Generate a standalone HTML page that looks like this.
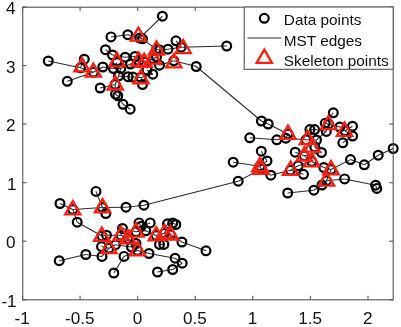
<!DOCTYPE html>
<html><head><meta charset="utf-8"><title>MST skeleton plot</title>
<style>html,body{margin:0;padding:0;background:#fff}svg{display:block}</style></head>
<body>
<svg width="401" height="327" viewBox="0 0 401 327">
<rect width="401" height="327" fill="#fff"/>
<g stroke="#2a2a2a" stroke-width="1.05" fill="none">
<line x1="67.3" y1="81.3" x2="93.3" y2="72.3"/>
<line x1="233.2" y1="162.2" x2="259.8" y2="166.3"/>
<line x1="238.2" y1="181.2" x2="261.2" y2="168.9"/>
<line x1="238.2" y1="181.2" x2="143.9" y2="205.2"/>
<line x1="77.2" y1="222.2" x2="102.0" y2="236.0"/>
<line x1="182.2" y1="263.2" x2="172.7" y2="269.5"/>
<line x1="139.8" y1="38.0" x2="142.5" y2="38.8"/>
<line x1="159.8" y1="50.0" x2="156.5" y2="49.6"/>
<line x1="115.5" y1="94.2" x2="117.8" y2="95.8"/>
<line x1="325.2" y1="123.3" x2="328.5" y2="124.2"/>
<line x1="172.8" y1="223.0" x2="175.8" y2="224.5"/>
<line x1="159.5" y1="244.4" x2="163.9" y2="244.4"/>
<line x1="156.5" y1="57.0" x2="153.5" y2="58.8"/>
<line x1="128.2" y1="76.8" x2="132.8" y2="77.0"/>
<line x1="309.9" y1="129.6" x2="314.6" y2="129.6"/>
<line x1="106.5" y1="235.2" x2="102.0" y2="236.0"/>
<line x1="259.8" y1="166.3" x2="261.2" y2="168.9"/>
<line x1="167.5" y1="223.8" x2="172.8" y2="223.0"/>
<line x1="138.8" y1="60.8" x2="144.2" y2="62.0"/>
<line x1="375.6" y1="185.2" x2="376.8" y2="188.4"/>
<line x1="164.5" y1="233.2" x2="170.5" y2="234.8"/>
<line x1="141.2" y1="226.2" x2="139.0" y2="222.9"/>
<line x1="120.8" y1="68.5" x2="113.5" y2="68.5"/>
<line x1="101.5" y1="246.6" x2="109.0" y2="248.2"/>
<line x1="131.5" y1="247.0" x2="136.0" y2="243.5"/>
<line x1="323.8" y1="167.5" x2="331.0" y2="169.5"/>
<line x1="141.0" y1="77.5" x2="132.8" y2="77.0"/>
<line x1="168.0" y1="49.2" x2="159.8" y2="50.0"/>
<line x1="285.8" y1="138.2" x2="288.0" y2="134.0"/>
<line x1="261.4" y1="121.0" x2="268.2" y2="124.0"/>
<line x1="339.8" y1="127.0" x2="345.0" y2="130.8"/>
<line x1="131.5" y1="247.0" x2="137.5" y2="250.5"/>
<line x1="135.0" y1="56.5" x2="138.8" y2="60.8"/>
<line x1="156.2" y1="235.5" x2="164.5" y2="233.2"/>
<line x1="121.0" y1="235.2" x2="127.8" y2="238.5"/>
<line x1="276.8" y1="139.8" x2="285.8" y2="138.2"/>
<line x1="322.0" y1="185.0" x2="326.5" y2="180.8"/>
<line x1="115.5" y1="244.7" x2="109.0" y2="248.2"/>
<line x1="128.2" y1="76.8" x2="118.5" y2="76.0"/>
<line x1="125.2" y1="57.2" x2="135.0" y2="56.5"/>
<line x1="141.2" y1="226.2" x2="145.8" y2="230.8"/>
<line x1="145.8" y1="230.8" x2="136.0" y2="231.8"/>
<line x1="152.8" y1="74.2" x2="147.0" y2="70.0"/>
<line x1="130.5" y1="64.0" x2="138.8" y2="60.8"/>
<line x1="316.5" y1="140.0" x2="306.0" y2="139.8"/>
<line x1="102.8" y1="67.0" x2="113.5" y2="68.5"/>
<line x1="141.2" y1="226.2" x2="150.2" y2="222.9"/>
<line x1="144.2" y1="62.0" x2="153.5" y2="58.8"/>
<line x1="295.2" y1="152.2" x2="304.3" y2="155.7"/>
<line x1="352.5" y1="126.2" x2="345.0" y2="130.8"/>
<line x1="290.3" y1="170.3" x2="298.2" y2="165.8"/>
<line x1="123.0" y1="104.3" x2="130.2" y2="109.2"/>
<line x1="175.1" y1="258.2" x2="182.2" y2="263.2"/>
<line x1="314.6" y1="129.6" x2="326.3" y2="131.4"/>
<line x1="105.8" y1="213.5" x2="102.5" y2="207.5"/>
<line x1="117.0" y1="62.5" x2="113.5" y2="68.5"/>
<line x1="339.8" y1="127.0" x2="328.5" y2="124.2"/>
<line x1="105.5" y1="49.7" x2="112.5" y2="55.0"/>
<line x1="267.0" y1="161.0" x2="259.8" y2="166.3"/>
<line x1="321.5" y1="152.5" x2="314.8" y2="147.0"/>
<line x1="352.6" y1="136.0" x2="345.0" y2="130.8"/>
<line x1="136.0" y1="243.5" x2="127.8" y2="238.5"/>
<line x1="149.0" y1="253.5" x2="137.5" y2="250.5"/>
<line x1="322.0" y1="185.0" x2="313.9" y2="190.2"/>
<line x1="120.8" y1="68.5" x2="130.5" y2="64.0"/>
<line x1="122.5" y1="228.5" x2="121.0" y2="235.2"/>
<line x1="152.8" y1="74.2" x2="141.0" y2="77.5"/>
<line x1="112.5" y1="55.0" x2="125.2" y2="57.2"/>
<line x1="304.3" y1="155.7" x2="311.8" y2="161.5"/>
<line x1="127.8" y1="34.7" x2="139.8" y2="38.0"/>
<line x1="176.0" y1="40.8" x2="181.2" y2="47.2"/>
<line x1="168.0" y1="49.2" x2="181.2" y2="47.2"/>
<line x1="141.0" y1="77.5" x2="142.5" y2="84.5"/>
<line x1="316.5" y1="140.0" x2="314.8" y2="147.0"/>
<line x1="145.8" y1="230.8" x2="156.2" y2="235.5"/>
<line x1="93.3" y1="72.3" x2="102.8" y2="67.0"/>
<line x1="159.5" y1="65.2" x2="153.5" y2="58.8"/>
<line x1="159.8" y1="50.0" x2="156.5" y2="57.0"/>
<line x1="326.3" y1="131.4" x2="328.5" y2="124.2"/>
<line x1="106.5" y1="235.2" x2="121.0" y2="235.2"/>
<line x1="120.8" y1="68.5" x2="118.5" y2="76.0"/>
<line x1="122.5" y1="228.5" x2="136.0" y2="231.8"/>
<line x1="290.3" y1="170.3" x2="303.5" y2="174.3"/>
<line x1="80.5" y1="67.8" x2="93.3" y2="72.3"/>
<line x1="270.8" y1="175.2" x2="261.2" y2="168.9"/>
<line x1="298.2" y1="165.8" x2="311.8" y2="161.5"/>
<line x1="157.5" y1="272.0" x2="172.7" y2="269.5"/>
<line x1="100.2" y1="88.0" x2="115.2" y2="84.5"/>
<line x1="352.6" y1="136.0" x2="342.8" y2="142.8"/>
<line x1="115.5" y1="244.7" x2="131.5" y2="247.0"/>
<line x1="85.8" y1="254.5" x2="102.0" y2="256.4"/>
<line x1="159.5" y1="65.2" x2="173.8" y2="60.8"/>
<line x1="323.8" y1="167.5" x2="311.8" y2="161.5"/>
<line x1="118.5" y1="76.0" x2="115.2" y2="84.5"/>
<line x1="350.5" y1="159.6" x2="364.3" y2="164.8"/>
<line x1="84.3" y1="59.2" x2="80.5" y2="67.8"/>
<line x1="111.0" y1="36.9" x2="127.8" y2="34.7"/>
<line x1="60.0" y1="203.5" x2="72.8" y2="209.5"/>
<line x1="102.0" y1="256.4" x2="109.0" y2="248.2"/>
<line x1="117.8" y1="95.8" x2="123.0" y2="104.3"/>
<line x1="124.0" y1="256.4" x2="137.5" y2="250.5"/>
<line x1="159.5" y1="244.4" x2="156.2" y2="235.5"/>
<line x1="181.9" y1="242.0" x2="170.5" y2="234.8"/>
<line x1="321.5" y1="152.5" x2="304.3" y2="155.7"/>
<line x1="126.0" y1="207.2" x2="143.9" y2="205.2"/>
<line x1="344.6" y1="178.9" x2="326.5" y2="180.8"/>
<line x1="167.5" y1="223.8" x2="164.5" y2="233.2"/>
<line x1="115.2" y1="84.5" x2="115.5" y2="94.2"/>
<line x1="316.5" y1="140.0" x2="326.3" y2="131.4"/>
<line x1="261.3" y1="151.2" x2="267.0" y2="161.0"/>
<line x1="378.2" y1="155.2" x2="393.2" y2="148.5"/>
<line x1="285.8" y1="138.2" x2="306.0" y2="139.8"/>
<line x1="270.8" y1="175.2" x2="290.3" y2="170.3"/>
<line x1="325.2" y1="123.3" x2="333.3" y2="112.8"/>
<line x1="331.0" y1="169.5" x2="326.5" y2="180.8"/>
<line x1="364.3" y1="164.8" x2="378.2" y2="155.2"/>
<line x1="126.0" y1="207.2" x2="102.5" y2="207.5"/>
<line x1="173.8" y1="60.8" x2="196.2" y2="66.5"/>
<line x1="77.2" y1="222.2" x2="72.8" y2="209.5"/>
<line x1="142.5" y1="38.8" x2="156.5" y2="49.6"/>
<line x1="313.9" y1="190.2" x2="287.7" y2="193.0"/>
<line x1="249.8" y1="137.8" x2="276.8" y2="139.8"/>
<line x1="350.5" y1="159.6" x2="331.0" y2="169.5"/>
<line x1="149.0" y1="253.5" x2="175.1" y2="258.2"/>
<line x1="268.2" y1="124.0" x2="288.0" y2="134.0"/>
<line x1="85.8" y1="254.5" x2="59.2" y2="260.7"/>
<line x1="181.9" y1="242.0" x2="206.0" y2="250.8"/>
<line x1="72.8" y1="209.5" x2="102.5" y2="207.5"/>
<line x1="96.0" y1="191.4" x2="102.5" y2="207.5"/>
<line x1="344.6" y1="178.9" x2="375.6" y2="185.2"/>
<line x1="124.0" y1="256.4" x2="113.8" y2="273.0"/>
<line x1="48.3" y1="61.0" x2="80.5" y2="67.8"/>
<line x1="181.2" y1="47.2" x2="226.7" y2="46.0"/>
<line x1="139.8" y1="38.0" x2="162.4" y2="16.2"/>
<line x1="196.2" y1="66.5" x2="261.4" y2="121.0"/>
</g>
<g stroke="#000" stroke-width="2.2" fill="none">
<circle cx="48.3" cy="61.0" r="4.4"/>
<circle cx="84.3" cy="59.2" r="4.4"/>
<circle cx="67.3" cy="81.3" r="4.4"/>
<circle cx="80.5" cy="67.8" r="4.4"/>
<circle cx="93.3" cy="72.3" r="4.4"/>
<circle cx="100.2" cy="88.0" r="4.4"/>
<circle cx="111.0" cy="36.9" r="4.4"/>
<circle cx="127.8" cy="34.7" r="4.4"/>
<circle cx="105.5" cy="49.7" r="4.4"/>
<circle cx="139.8" cy="38.0" r="4.4"/>
<circle cx="142.5" cy="38.8" r="4.4"/>
<circle cx="162.4" cy="16.2" r="4.4"/>
<circle cx="176.0" cy="40.8" r="4.4"/>
<circle cx="168.0" cy="49.2" r="4.4"/>
<circle cx="159.8" cy="50.0" r="4.4"/>
<circle cx="181.2" cy="47.2" r="4.4"/>
<circle cx="156.5" cy="57.0" r="4.4"/>
<circle cx="159.5" cy="65.2" r="4.4"/>
<circle cx="152.8" cy="74.2" r="4.4"/>
<circle cx="173.8" cy="60.8" r="4.4"/>
<circle cx="196.2" cy="66.5" r="4.4"/>
<circle cx="226.7" cy="46.0" r="4.4"/>
<circle cx="112.5" cy="55.0" r="4.4"/>
<circle cx="125.2" cy="57.2" r="4.4"/>
<circle cx="117.0" cy="62.5" r="4.4"/>
<circle cx="102.8" cy="67.0" r="4.4"/>
<circle cx="120.8" cy="68.5" r="4.4"/>
<circle cx="135.0" cy="56.5" r="4.4"/>
<circle cx="128.2" cy="76.8" r="4.4"/>
<circle cx="118.5" cy="76.0" r="4.4"/>
<circle cx="141.0" cy="77.5" r="4.4"/>
<circle cx="115.2" cy="84.5" r="4.4"/>
<circle cx="115.5" cy="94.2" r="4.4"/>
<circle cx="117.8" cy="95.8" r="4.4"/>
<circle cx="123.0" cy="104.3" r="4.4"/>
<circle cx="130.2" cy="109.2" r="4.4"/>
<circle cx="142.5" cy="84.5" r="4.4"/>
<circle cx="113.5" cy="68.5" r="4.4"/>
<circle cx="130.5" cy="64.0" r="4.4"/>
<circle cx="132.8" cy="77.0" r="4.4"/>
<circle cx="147.0" cy="70.0" r="4.4"/>
<circle cx="261.4" cy="121.0" r="4.4"/>
<circle cx="268.2" cy="124.0" r="4.4"/>
<circle cx="249.8" cy="137.8" r="4.4"/>
<circle cx="276.8" cy="139.8" r="4.4"/>
<circle cx="285.8" cy="138.2" r="4.4"/>
<circle cx="309.9" cy="129.6" r="4.4"/>
<circle cx="314.6" cy="129.6" r="4.4"/>
<circle cx="316.5" cy="140.0" r="4.4"/>
<circle cx="306.0" cy="139.8" r="4.4"/>
<circle cx="325.2" cy="123.3" r="4.4"/>
<circle cx="326.3" cy="131.4" r="4.4"/>
<circle cx="333.3" cy="112.8" r="4.4"/>
<circle cx="339.8" cy="127.0" r="4.4"/>
<circle cx="352.5" cy="126.2" r="4.4"/>
<circle cx="352.6" cy="136.0" r="4.4"/>
<circle cx="342.8" cy="142.8" r="4.4"/>
<circle cx="345.0" cy="130.8" r="4.4"/>
<circle cx="261.3" cy="151.2" r="4.4"/>
<circle cx="233.2" cy="162.2" r="4.4"/>
<circle cx="238.2" cy="181.2" r="4.4"/>
<circle cx="267.0" cy="161.0" r="4.4"/>
<circle cx="270.8" cy="175.2" r="4.4"/>
<circle cx="259.8" cy="166.3" r="4.4"/>
<circle cx="261.2" cy="168.9" r="4.4"/>
<circle cx="290.3" cy="170.3" r="4.4"/>
<circle cx="295.2" cy="152.2" r="4.4"/>
<circle cx="321.5" cy="152.5" r="4.4"/>
<circle cx="298.2" cy="165.8" r="4.4"/>
<circle cx="303.5" cy="174.3" r="4.4"/>
<circle cx="323.8" cy="167.5" r="4.4"/>
<circle cx="314.8" cy="147.0" r="4.4"/>
<circle cx="350.5" cy="159.6" r="4.4"/>
<circle cx="364.3" cy="164.8" r="4.4"/>
<circle cx="344.6" cy="178.9" r="4.4"/>
<circle cx="322.0" cy="185.0" r="4.4"/>
<circle cx="378.2" cy="155.2" r="4.4"/>
<circle cx="393.2" cy="148.5" r="4.4"/>
<circle cx="375.6" cy="185.2" r="4.4"/>
<circle cx="376.8" cy="188.4" r="4.4"/>
<circle cx="313.9" cy="190.2" r="4.4"/>
<circle cx="287.7" cy="193.0" r="4.4"/>
<circle cx="60.0" cy="203.5" r="4.4"/>
<circle cx="96.0" cy="191.4" r="4.4"/>
<circle cx="77.2" cy="222.2" r="4.4"/>
<circle cx="105.8" cy="213.5" r="4.4"/>
<circle cx="126.0" cy="207.2" r="4.4"/>
<circle cx="143.9" cy="205.2" r="4.4"/>
<circle cx="106.5" cy="235.2" r="4.4"/>
<circle cx="102.0" cy="236.0" r="4.4"/>
<circle cx="122.5" cy="228.5" r="4.4"/>
<circle cx="85.8" cy="254.5" r="4.4"/>
<circle cx="102.0" cy="256.4" r="4.4"/>
<circle cx="124.0" cy="256.4" r="4.4"/>
<circle cx="101.5" cy="246.6" r="4.4"/>
<circle cx="115.5" cy="244.7" r="4.4"/>
<circle cx="131.5" cy="247.0" r="4.4"/>
<circle cx="136.0" cy="243.5" r="4.4"/>
<circle cx="141.2" cy="226.2" r="4.4"/>
<circle cx="150.2" cy="222.9" r="4.4"/>
<circle cx="145.8" cy="230.8" r="4.4"/>
<circle cx="167.5" cy="223.8" r="4.4"/>
<circle cx="172.8" cy="223.0" r="4.4"/>
<circle cx="175.8" cy="224.5" r="4.4"/>
<circle cx="181.9" cy="242.0" r="4.4"/>
<circle cx="159.5" cy="244.4" r="4.4"/>
<circle cx="163.9" cy="244.4" r="4.4"/>
<circle cx="149.0" cy="253.5" r="4.4"/>
<circle cx="175.1" cy="258.2" r="4.4"/>
<circle cx="182.2" cy="263.2" r="4.4"/>
<circle cx="139.0" cy="222.9" r="4.4"/>
<circle cx="59.2" cy="260.7" r="4.4"/>
<circle cx="113.8" cy="273.0" r="4.4"/>
<circle cx="157.5" cy="272.0" r="4.4"/>
<circle cx="172.7" cy="269.5" r="4.4"/>
<circle cx="206.0" cy="250.8" r="4.4"/>
<circle cx="156.5" cy="49.6" r="4.4"/>
<circle cx="138.8" cy="60.8" r="4.4"/>
<circle cx="144.2" cy="62.0" r="4.4"/>
<circle cx="153.5" cy="58.8" r="4.4"/>
<circle cx="288.0" cy="134.0" r="4.4"/>
<circle cx="328.5" cy="124.2" r="4.4"/>
<circle cx="304.3" cy="155.7" r="4.4"/>
<circle cx="311.8" cy="161.5" r="4.4"/>
<circle cx="331.0" cy="169.5" r="4.4"/>
<circle cx="326.5" cy="180.8" r="4.4"/>
<circle cx="72.8" cy="209.5" r="4.4"/>
<circle cx="102.5" cy="207.5" r="4.4"/>
<circle cx="109.0" cy="248.2" r="4.4"/>
<circle cx="121.0" cy="235.2" r="4.4"/>
<circle cx="127.8" cy="238.5" r="4.4"/>
<circle cx="136.0" cy="231.8" r="4.4"/>
<circle cx="137.5" cy="250.5" r="4.4"/>
<circle cx="156.2" cy="235.5" r="4.4"/>
<circle cx="164.5" cy="233.2" r="4.4"/>
<circle cx="170.5" cy="234.8" r="4.4"/>
</g>
<g stroke="#fb1e10" stroke-width="2.35" fill="none" stroke-linejoin="miter">
<polygon points="82.0,58.2 89.6,71.3 74.4,71.3"/>
<polygon points="93.3,63.5 100.9,76.6 85.7,76.6"/>
<polygon points="138.4,27.5 146.0,40.6 130.8,40.6"/>
<polygon points="156.5,41.3 164.1,54.5 148.9,54.5"/>
<polygon points="183.2,40.0 190.8,53.1 175.6,53.1"/>
<polygon points="173.8,54.2 181.3,67.3 166.2,67.3"/>
<polygon points="117.0,53.2 124.6,66.3 109.4,66.3"/>
<polygon points="115.3,76.4 122.9,89.5 107.7,89.5"/>
<polygon points="141.0,70.1 148.6,83.2 133.4,83.2"/>
<polygon points="138.8,52.5 146.3,65.6 131.2,65.6"/>
<polygon points="144.2,53.7 151.8,66.8 136.6,66.8"/>
<polygon points="153.5,50.5 161.1,63.6 145.9,63.6"/>
<polygon points="288.0,125.7 295.6,138.8 280.4,138.8"/>
<polygon points="307.5,130.9 315.1,144.1 299.9,144.1"/>
<polygon points="312.0,138.4 319.6,151.6 304.4,151.6"/>
<polygon points="328.5,116.0 336.1,129.1 320.9,129.1"/>
<polygon points="344.5,122.7 352.1,135.8 336.9,135.8"/>
<polygon points="259.8,158.0 267.4,171.2 252.2,171.2"/>
<polygon points="261.2,160.6 268.8,173.8 253.6,173.8"/>
<polygon points="290.6,161.5 298.2,174.7 283.0,174.7"/>
<polygon points="304.3,147.4 311.9,160.5 296.7,160.5"/>
<polygon points="311.8,153.2 319.4,166.3 304.1,166.3"/>
<polygon points="331.0,161.2 338.6,174.3 323.4,174.3"/>
<polygon points="326.5,172.4 334.1,185.6 318.9,185.6"/>
<polygon points="72.8,201.2 80.3,214.3 65.2,214.3"/>
<polygon points="102.5,199.2 110.1,212.3 94.9,212.3"/>
<polygon points="101.8,227.5 109.4,240.7 94.2,240.7"/>
<polygon points="109.0,239.9 116.6,253.1 101.4,253.1"/>
<polygon points="121.0,226.9 128.6,240.0 113.4,240.0"/>
<polygon points="127.8,230.2 135.3,243.3 120.2,243.3"/>
<polygon points="136.0,223.4 143.6,236.6 128.4,236.6"/>
<polygon points="137.5,242.2 145.1,255.3 129.9,255.3"/>
<polygon points="156.2,227.2 163.8,240.3 148.7,240.3"/>
<polygon points="164.5,224.9 172.1,238.1 156.9,238.1"/>
<polygon points="170.5,226.4 178.1,239.6 162.9,239.6"/>
</g>
<g stroke="#555" stroke-width="1.1" fill="none">
<rect x="22.75" y="7.2" width="370.45" height="292.60"/>
<line x1="22.5" y1="299.8" x2="22.5" y2="295.8"/>
<line x1="22.5" y1="7.0" x2="22.5" y2="11.0"/>
<line x1="80.1" y1="299.8" x2="80.1" y2="295.8"/>
<line x1="80.1" y1="7.0" x2="80.1" y2="11.0"/>
<line x1="137.7" y1="299.8" x2="137.7" y2="295.8"/>
<line x1="137.7" y1="7.0" x2="137.7" y2="11.0"/>
<line x1="195.2" y1="299.8" x2="195.2" y2="295.8"/>
<line x1="195.2" y1="7.0" x2="195.2" y2="11.0"/>
<line x1="252.8" y1="299.8" x2="252.8" y2="295.8"/>
<line x1="252.8" y1="7.0" x2="252.8" y2="11.0"/>
<line x1="310.4" y1="299.8" x2="310.4" y2="295.8"/>
<line x1="310.4" y1="7.0" x2="310.4" y2="11.0"/>
<line x1="368.0" y1="299.8" x2="368.0" y2="295.8"/>
<line x1="368.0" y1="7.0" x2="368.0" y2="11.0"/>
<line x1="22.5" y1="299.8" x2="26.5" y2="299.8"/>
<line x1="393.2" y1="299.8" x2="389.2" y2="299.8"/>
<line x1="22.5" y1="241.2" x2="26.5" y2="241.2"/>
<line x1="393.2" y1="241.2" x2="389.2" y2="241.2"/>
<line x1="22.5" y1="182.7" x2="26.5" y2="182.7"/>
<line x1="393.2" y1="182.7" x2="389.2" y2="182.7"/>
<line x1="22.5" y1="124.1" x2="26.5" y2="124.1"/>
<line x1="393.2" y1="124.1" x2="389.2" y2="124.1"/>
<line x1="22.5" y1="65.6" x2="26.5" y2="65.6"/>
<line x1="393.2" y1="65.6" x2="389.2" y2="65.6"/>
<line x1="22.5" y1="7.0" x2="26.5" y2="7.0"/>
<line x1="393.2" y1="7.0" x2="389.2" y2="7.0"/>
</g>
<rect x="244.2" y="7.0" width="149.0" height="62.3" fill="#fff" stroke="#555" stroke-width="1.1"/>
<circle cx="264.3" cy="18.3" r="4.4" stroke="#000" stroke-width="2.2" fill="none"/>
<line x1="247.5" y1="38" x2="281.2" y2="38" stroke="#2a2a2a" stroke-width="1.05"/>
<g stroke="#fb1e10" stroke-width="2.35" fill="none"><polygon points="264.3,49.6 271.9,62.8 256.7,62.8"/></g>
<g font-family="Liberation Sans, Arial, sans-serif" font-size="15.35" fill="#111">
<text x="283.8" y="24.9">Data points</text>
<text x="283.8" y="45.6">MST edges</text>
<text x="283.8" y="65.6">Skeleton points</text>
</g>
<g font-family="Liberation Sans, Arial, sans-serif" font-size="17.1" fill="#111">
<text x="22.2" y="324.4" text-anchor="middle">-1</text>
<text x="79.8" y="324.4" text-anchor="middle">-0.5</text>
<text x="137.4" y="324.4" text-anchor="middle">0</text>
<text x="194.9" y="324.4" text-anchor="middle">0.5</text>
<text x="252.5" y="324.4" text-anchor="middle">1</text>
<text x="310.1" y="324.4" text-anchor="middle">1.5</text>
<text x="367.7" y="324.4" text-anchor="middle">2</text>
<text x="16.6" y="306.8" text-anchor="end">-1</text>
<text x="15.4" y="248.2" text-anchor="end">0</text>
<text x="16.6" y="189.7" text-anchor="end">1</text>
<text x="15.4" y="131.1" text-anchor="end">2</text>
<text x="15.4" y="72.6" text-anchor="end">3</text>
<text x="15.4" y="14.0" text-anchor="end">4</text>
</g>
</svg>
</body></html>
